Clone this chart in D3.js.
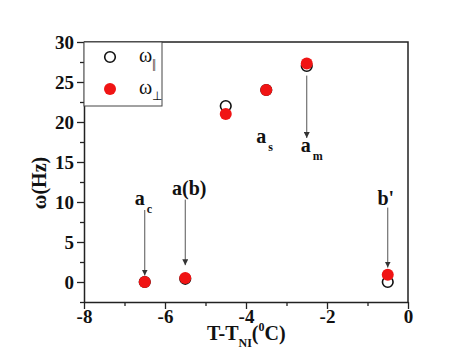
<!DOCTYPE html>
<html>
<head>
<meta charset="utf-8">
<script src="https://cdn.jsdelivr.net/npm/d3@7"></script>
</head>
<body style="margin:0;background:#fff">
<script>
// data
var temps = [-6.5, -5.5, -4.5, -3.5, -2.5, -0.5];
var omegaPar = [0, 0.4, 22, 24, 27, 0];
var omegaPerp = [0, 0.5, 21, 24, 27.3, 0.9];
var xTicks = [-8, -6, -4, -2, 0];
var yTicks = [0, 5, 10, 15, 20, 25, 30];

// annotations: label, subscript, x value, arrow from/to (y values)
var notes = [
    { main: "a", sub: "c", x: -6.5, y0: 9, y1: 0.8, tx: -6.6, ty: 9.6 },
    { main: "a(b)", sub: "", x: -5.5, y0: 10.3, y1: 2.1, tx: -5.4, ty: 10.9 },
    { main: "a", sub: "s", x: -3.5, y0: null, y1: null, tx: -3.6, ty: 17.4 },
    { main: "a", sub: "m", x: -2.5, y0: 25.8, y1: 18, tx: -2.5, ty: 16.2 },
    { main: "b'", sub: "", x: -0.5, y0: 9.3, y1: 1.8, tx: -0.55, ty: 9.6 }
];

var serif = "'Liberation Serif', 'Times New Roman', Times, serif";
var width = 474, height = 362;
var margin = { left: 84, right: 66, top: 42, bottom: 60 };

var svg = d3.select("body").append("svg")
    .attr("width", width)
    .attr("height", height)
    .style("font-family", serif);

var x = d3.scaleLinear().domain([-8, 0]).range([margin.left, width - margin.right]);
var y = d3.scaleLinear().domain([-2.5, 30]).range([height - margin.bottom, margin.top]);

var defs = svg.append("defs");
defs.append("marker")
    .attr("id", "head")
    .attr("viewBox", "0 0 10 10")
    .attr("refX", 10).attr("refY", 5)
    .attr("markerWidth", 6).attr("markerHeight", 6)
    .attr("markerUnits", "userSpaceOnUse")
    .attr("orient", "auto")
    .append("path")
    .attr("d", "M0,0 L10,5 L0,10 z")
    .attr("fill", "#333");

// minor ticks
var xMinor = d3.range(-7, 0, 2);
var yMinor = [-2.5, 2.5, 7.5, 12.5, 17.5, 22.5, 27.5];

svg.append("g")
    .attr("transform", "translate(0," + y(-2.5) + ")")
    .call(d3.axisBottom(x).tickValues(xMinor).tickSize(4).tickFormat(""))
    .call(function(g) { g.select(".domain").remove(); });
svg.append("g")
    .attr("transform", "translate(" + x(-8) + ",0)")
    .call(d3.axisLeft(y).tickValues(yMinor).tickSize(4).tickFormat(""))
    .call(function(g) { g.select(".domain").remove(); });

var xAxis = svg.append("g")
    .attr("transform", "translate(0," + y(-2.5) + ")")
    .call(d3.axisBottom(x).tickValues(xTicks).tickSize(7).tickSizeOuter(0).tickPadding(1)
        .tickFormat(function(d) { return d3.format("d")(d).replace("\u2212", "-"); }));

var yAxis = svg.append("g")
    .attr("transform", "translate(" + x(-8) + ",0)")
    .call(d3.axisLeft(y).tickValues(yTicks).tickSize(7).tickSizeOuter(0).tickPadding(3));

svg.selectAll(".tick line").attr("stroke", "#222").attr("stroke-width", 1.3);
svg.selectAll(".domain").attr("stroke", "#222").attr("stroke-width", 1.5);
svg.selectAll(".tick text")
    .style("font-family", serif)
    .attr("font-weight", "bold")
    .attr("font-size", 19)
    .attr("fill", "#111");

// top and right frame
svg.append("path")
    .attr("d", "M" + x(-8) + "," + y(30) + "H" + x(0) + "V" + y(-2.5))
    .attr("fill", "none")
    .attr("stroke", "#222")
    .attr("stroke-width", 1.5);

// arrows
svg.selectAll("line.arrow")
    .data(notes.filter(function(d) { return d.y0 !== null; }))
    .enter().append("line")
    .attr("class", "arrow")
    .attr("x1", function(d) { return x(d.x); })
    .attr("x2", function(d) { return x(d.x); })
    .attr("y1", function(d) { return y(d.y0); })
    .attr("y2", function(d) { return y(d.y1); })
    .attr("stroke", "#555")
    .attr("stroke-width", 1)
    .attr("marker-end", "url(#head)");

var labels = svg.selectAll("text.note")
    .data(notes)
    .enter().append("text")
    .attr("class", "note")
    .style("font-family", serif)
    .attr("x", function(d) { return x(d.tx); })
    .attr("y", function(d) { return y(d.ty); })
    .attr("text-anchor", function(d) { return d.sub ? "start" : "middle"; })
    .attr("dx", function(d) { return d.sub ? -6 : 0; })
    .attr("font-weight", "bold")
    .attr("font-size", 20)
    .attr("fill", "#111");
labels.append("tspan").text(function(d) { return d.main; });
labels.append("tspan")
    .attr("dy", 8)
    .attr("dx", 2)
    .attr("font-size", 12)
    .text(function(d) { return d.sub; });

// points: hollow first, red on top
svg.selectAll("circle.par")
    .data(temps)
    .enter().append("circle")
    .attr("class", "par")
    .attr("cx", function(d) { return x(d); })
    .attr("cy", function(d, i) { return y(omegaPar[i]); })
    .attr("r", 5.3)
    .attr("fill", "#fff")
    .attr("stroke", "#111")
    .attr("stroke-width", 1.6);

svg.selectAll("circle.perp")
    .data(temps)
    .enter().append("circle")
    .attr("class", "perp")
    .attr("cx", function(d) { return x(d); })
    .attr("cy", function(d, i) { return y(omegaPerp[i]); })
    .attr("r", 6)
    .attr("fill", "#f01414");

// legend
var legend = svg.append("g");
legend.append("rect")
    .attr("x", x(-8)).attr("y", y(30))
    .attr("width", 78).attr("height", 64)
    .attr("fill", "#fff")
    .attr("stroke", "#444")
    .attr("stroke-width", 1);
legend.append("circle")
    .attr("cx", x(-8) + 26).attr("cy", y(30) + 15)
    .attr("r", 5.3).attr("fill", "#fff").attr("stroke", "#111").attr("stroke-width", 1.6);
legend.append("circle")
    .attr("cx", x(-8) + 26).attr("cy", y(30) + 47)
    .attr("r", 6).attr("fill", "#f01414");

var legendItems = [{ sub: "||", dy: 20, ls: -1 }, { sub: "\u22A5", dy: 52, ls: 0 }];
legendItems.forEach(function(d) {
    var t = legend.append("text")
        .style("font-family", serif)
        .attr("x", x(-8) + 55).attr("y", y(30) + d.dy)
        .attr("font-size", 20)
        .attr("fill", "#111");
    t.append("tspan").text("\u03C9");
    t.append("tspan").attr("dy", 6).attr("font-size", 12)
        .attr("letter-spacing", d.ls).text(d.sub);
});

// axis titles
var xt = svg.append("text")
    .style("font-family", serif)
    .attr("x", 207).attr("y", 340)
    .attr("font-weight", "bold").attr("font-size", 20).attr("fill", "#111");
xt.append("tspan").text("T-T");
xt.append("tspan").attr("dy", 7).attr("font-size", 12).text("NI");
xt.append("tspan").attr("dy", -7).text("(");
xt.append("tspan").attr("dy", -9).attr("font-size", 12).text("0");
xt.append("tspan").attr("dy", 9).text("C)");

svg.append("text")
    .style("font-family", serif)
    .attr("transform", "translate(46," + 183 + ") rotate(-90)")
    .attr("text-anchor", "middle")
    .attr("font-weight", "bold").attr("font-size", 20).attr("fill", "#111")
    .text("\u03C9(Hz)");
</script>
</body>
</html>
